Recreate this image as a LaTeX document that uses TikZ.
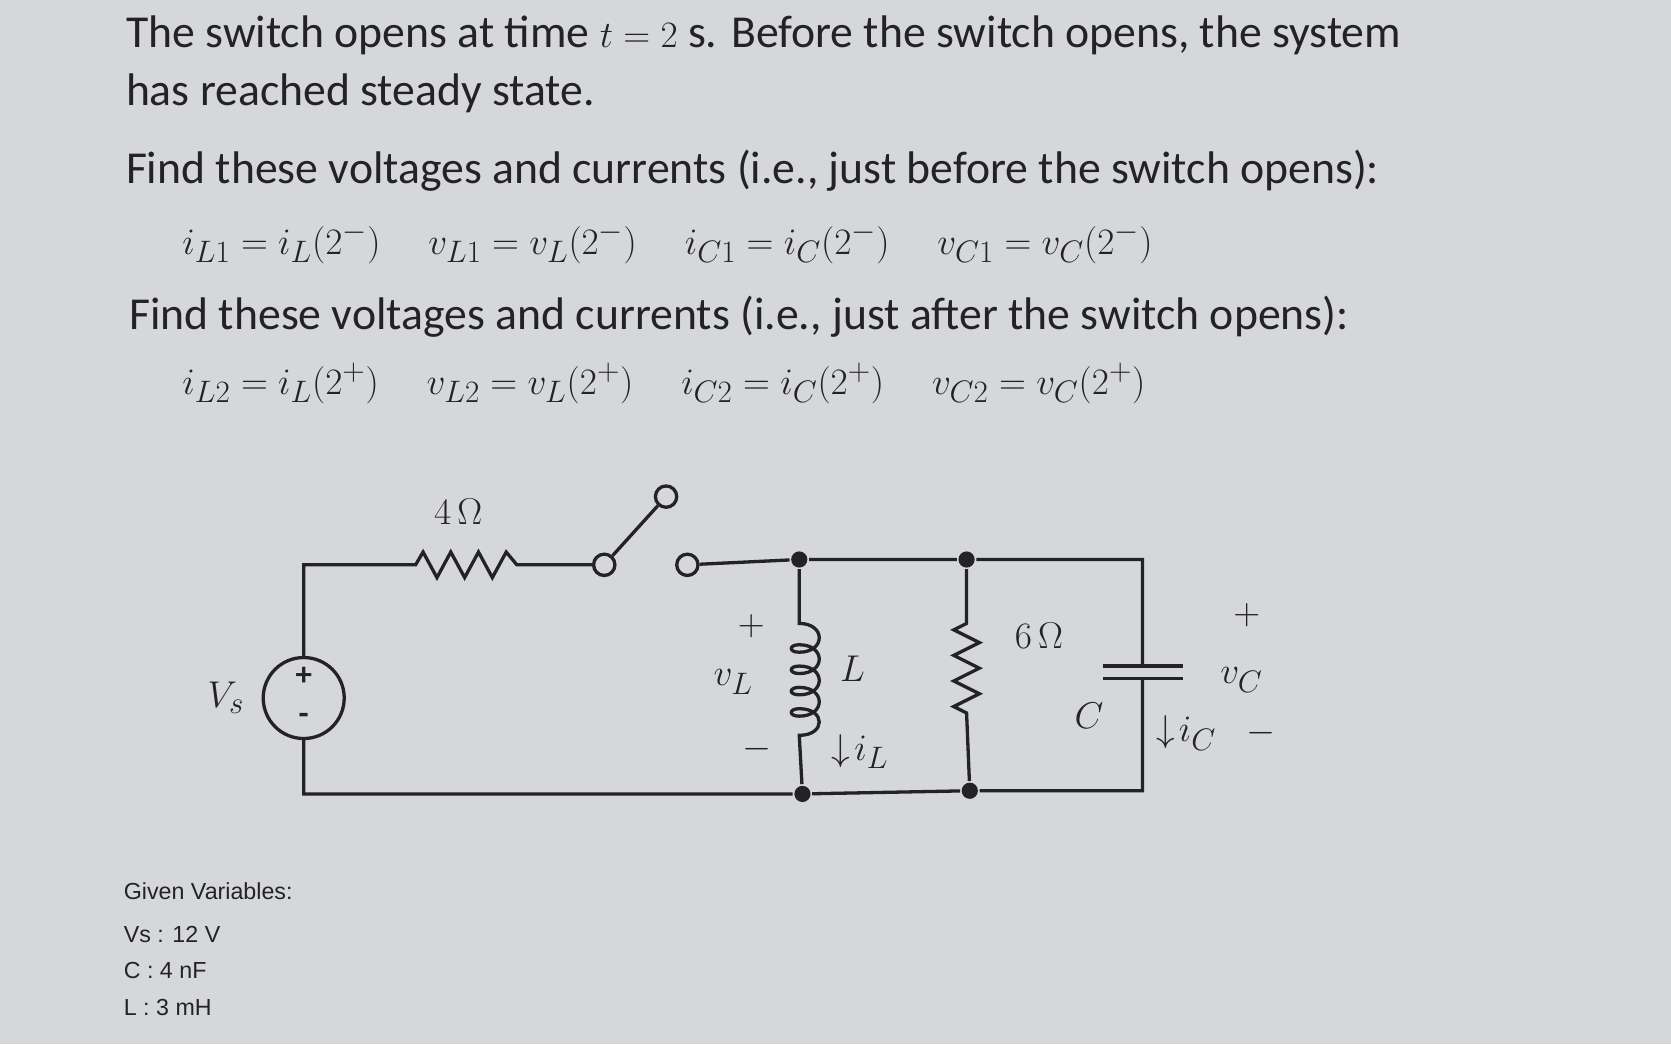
\documentclass[tikz,border=0pt]{standalone}
\usepackage{fontspec}
\setmainfont{Carlito}
\newfontfamily\arialf{Liberation Sans}
\usepackage{amsmath}
\usetikzlibrary{calc}
\definecolor{bg}{RGB}{214,215,219}
\definecolor{ink}{RGB}{35,35,38}
\begin{document}
\begin{tikzpicture}[x=0.025cm,y=-0.025cm,line width=2.2pt,draw=ink,text=ink,
  ttl/.style={anchor=west,font=\fontsize{30.5}{34}\selectfont},
  eqn/.style={anchor=west,font=\fontsize{32}{36}\selectfont},
  lbl/.style={font=\fontsize{28}{30}\selectfont},
  giv/.style={anchor=west,font=\arialf\fontsize{15.5}{18}\selectfont},
  term/.style={circle,draw,fill=bg,inner sep=0pt,minimum size=0.5cm},
  dotn/.style={circle,fill=ink,inner sep=0pt,minimum size=0.38cm}]
\fill[bg] (0,0) rectangle (1568,980);
\useasboundingbox (0,0) rectangle (1568,980);
\node[ttl] (t1) at (112,33) {The switch opens at time $t=2$ s. Before the switch opens, the system};
\node[ttl] (t2) at (112,88) {has reached steady state.};
\node[ttl] (t3) at (112,160) {Find these voltages and currents (i.e., just before the switch opens):};
\node[eqn] (e1) at (165,228) {$i_{L1}=i_L(2^-)\quad v_{L1}=v_L(2^-)\quad i_{C1}=i_C(2^-)\quad v_{C1}=v_C(2^-)$};
\node[ttl] (t4) at (115,297) {Find these voltages and currents (i.e., just after the switch opens):};
\node[eqn] (e2) at (165,360) {$i_{L2}=i_L(2^+)\quad v_{L2}=v_L(2^+)\quad i_{C2}=i_C(2^+)\quad v_{C2}=v_C(2^+)$};
% circuit
\node[circle,draw,minimum size=1.9cm,inner sep=0pt] (vs) at (285,655) {};
\node[font=\bfseries\fontsize{22}{22}\selectfont] (vp) at (285,635) {+};
\node[font=\bfseries\fontsize{22}{22}\selectfont] (vm) at (285,675) {-};
\node[lbl] (vsl) at (212,655) {$V_s$};
\coordinate (tl) at (285,530);
\coordinate (bl) at (285,745);
\node[term] (s1) at (567,530) {};
\node[term] (s2) at (625,466) {};
\node[term] (s3) at (645,530) {};
\node[dotn] (n1) at (750,525) {};
\node[dotn] (n2) at (907,525) {};
\node[dotn] (n3) at (753,745) {};
\node[dotn] (n4) at (910,742) {};
\coordinate (tr) at (1072,525);
\coordinate (br) at (1072,742);
\draw (vs.north) -- (tl) -- (390,530) -- ++(7,-12) -- ++(13,24) -- ++(13,-24) -- ++(13,24) -- ++(13,-24) -- ++(13,24) -- ++(13,-24) -- ++(10,12) -- (s1);
\draw (s1) -- (s2);
\draw (vs.south) -- (bl) -- (n3) -- (n4) -- (br) -- (1072,637);
\draw (s3) -- (n1) -- (n2) -- (tr) -- (1072,625);
\draw (1035,625) -- (1110,625);
\draw (1035,637) -- (1110,637);
% inductor
\draw (n1) -- (750,585) .. controls (775,585) and (775,612) .. (750,612) .. controls (740,612) and (740,605) .. (750,605)
 .. controls (775,605) and (775,632) .. (750,632) .. controls (740,632) and (740,625) .. (750,625)
 .. controls (775,625) and (775,652) .. (750,652) .. controls (740,652) and (740,645) .. (750,645)
 .. controls (775,645) and (775,672) .. (750,672) .. controls (740,672) and (740,665) .. (750,665)
 .. controls (775,665) and (775,690) .. (750,690) -- (n3);
% 6 ohm resistor
\draw (n2) -- (907,585) -- ++(-12,6) -- ++(24,12) -- ++(-24,12) -- ++(24,12) -- ++(-24,12) -- ++(24,12) -- ++(-24,12) -- ++(12,6) -- (n4);
\node[lbl] (r1) at (430,480) {$4\,\Omega$};
\node[lbl] (r2) at (975,597) {$6\,\Omega$};
\node[lbl] (vlp) at (705,588) {$+$};
\node[lbl] (vl) at (688,640) {$v_L$};
\node[lbl] (vlm) at (710,703) {$-$};
\node[lbl] (ll) at (800,628) {$L$};
\node[lbl] (il) at (807,705) {$\downarrow\! i_L$};
\node[lbl] (cl) at (1022,672) {$C$};
\node[lbl] (ic) at (1113,688) {$\downarrow\! i_C$};
\node[lbl] (vcp) at (1170,577) {$+$};
\node[lbl] (vc) at (1165,638) {$v_C$};
\node[lbl] (vcm) at (1183,688) {$-$};
% given
\node[giv] (g0) at (110,836) {Given Variables:};
\node[giv] (g1) at (110,877) {Vs : 12 V};
\node[giv] (g2) at (110,911) {C : 4 nF};
\node[giv] (g3) at (110,945) {L : 3 mH};
\end{tikzpicture}
\end{document}
